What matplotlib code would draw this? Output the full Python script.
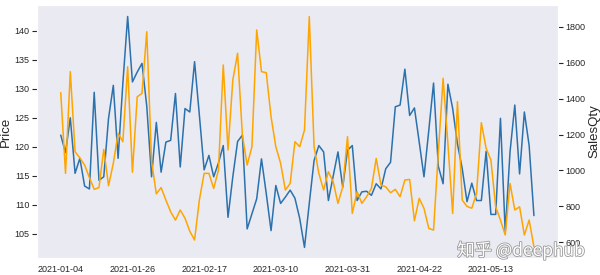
import matplotlib
matplotlib.use('Agg')
import matplotlib.pyplot as plt
import matplotlib.patheffects as pe
import numpy as np
import pandas as pd
import seaborn as sns

# trading days (US market holidays removed)
holidays = ['2021-01-18', '2021-02-15', '2021-04-02']
dates = pd.bdate_range('2021-01-04', periods=100, freq='C', holidays=holidays)

price = [122.0, 119.0, 125.0, 115.4, 118.0, 113.2, 112.7, 129.4, 114.2, 114.8,
         124.9, 130.6, 118.0, 131.0, 142.5, 131.2, 132.9, 134.4, 127.0, 114.8,
         124.2, 115.6, 120.8, 121.1, 129.2, 116.5, 126.6, 126.0, 134.7, 125.5,
         116.0, 118.5, 114.8, 117.2, 120.2, 107.8, 114.8, 120.9, 122.0, 105.8,
         108.4, 111.0, 117.9, 111.9, 105.5, 113.3, 110.2, 111.3, 112.5, 111.1,
         107.6, 102.6, 110.2, 117.6, 120.2, 119.1, 110.7, 114.9, 119.1, 113.0,
         119.4, 120.2, 110.7, 112.2, 112.3, 111.6, 113.6, 112.7, 116.2, 117.3,
         126.9, 127.2, 133.4, 125.4, 126.7, 120.8, 114.8, 122.8, 131.0, 116.6,
         113.6, 130.8, 126.6, 120.5, 116.2, 110.5, 113.7, 110.7, 110.7, 119.2,
         108.3, 108.3, 124.9, 105.2, 119.1, 127.2, 115.3, 126.0, 120.2, 108.1]

sales_qty = [1433, 984, 1550, 1104, 1070, 1030, 960, 895, 905, 1117,
             915, 1040, 1207, 1160, 1577, 990, 1410, 1429, 1772, 1050,
             870, 905, 835, 770, 724, 780, 734, 662, 613, 835,
             984, 984, 900, 1002, 1587, 1114, 1503, 1652, 1197, 1030,
             1132, 1782, 1550, 1544, 1299, 1132, 1040, 891, 928, 1160,
             1132, 1225, 1856, 1132, 984, 891, 993, 937, 817, 909,
             1188, 761, 882, 817, 854, 900, 1067, 919, 909, 876,
             895, 854, 947, 950, 720, 845, 789, 678, 668, 1100,
             1513, 1150, 761, 1383, 835, 800, 790, 873, 1266, 1123,
             1058, 798, 724, 641, 928, 780, 798, 641, 724, 576]

labels = [d.strftime('%Y-%m-%d') for d in dates]
x = np.arange(len(labels))

sns.set_style('dark')
plt.rcParams['font.family'] = ['Liberation Sans', 'DejaVu Sans']

fig = plt.figure(figsize=(6, 2.75), dpi=100)
ax = fig.add_axes([0.0618, 0.0625, 0.8675, 0.9195])
ax.plot(x, price, color='#2b72ad', lw=1.1)
ax.set_ylabel('Price', fontsize=9.5, labelpad=2)
ax.set_ylim(100.8, 144.5)
ax.set_xlim(-4.95, 103.95)
ax.set_xticks(x[::15])
ax.set_xticklabels(labels[::15])
ax.tick_params(labelsize=6.5, pad=2)

ax2 = ax.twinx()
ax2.plot(x, sales_qty, color='orange', lw=1.1)
ax2.set_ylabel('SalesQty', fontsize=9.5, labelpad=2)
ax2.set_ylim(514, 1921)
ax2.set_yticks([600, 800, 1000, 1200, 1400, 1600, 1800])
ax2.tick_params(labelsize=6.5, pad=2)
ax2.grid(False)

# watermark
fig.text(0.975, 0.055, '知乎 @deephub', ha='right', va='bottom', fontsize=12.5,
         color='white', family=['Noto Sans CJK SC', 'DejaVu Sans'],
         path_effects=[pe.withStroke(linewidth=1.2, foreground='#9a9a9a')])

fig.savefig('out.png', dpi=100)
